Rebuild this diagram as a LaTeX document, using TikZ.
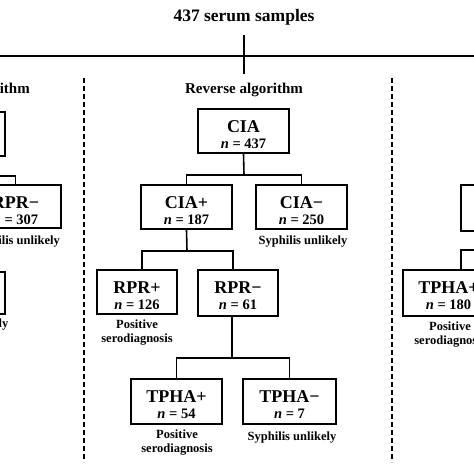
\documentclass[tikz,border=0pt]{standalone}
\usepackage{fontspec}
\setmainfont{Liberation Serif}
\newcommand\flowbox[7]{% name, cx, top, w, h, line1, line2
  \node[box, minimum width=#4pt, minimum height=#5pt] (#1) at (#2,#3+#5/2) {};
  \node[maintxt, anchor=base] (#1-a) at (#2,#3+23) {#6};
  \node[subtxt, anchor=base] (#1-b) at (#2,#3+39.5) {#7};
}
\begin{document}
\begin{tikzpicture}[x=1pt,y=-1pt,
  box/.style={draw, line width=1.8pt, inner sep=0pt},
  maintxt/.style={font=\fontsize{18}{20}\selectfont\bfseries, inner sep=0pt},
  subtxt/.style={font=\fontsize{14.5}{16}\selectfont\bfseries, inner sep=0pt},
  lbl/.style={font=\fontsize{12.5}{14}\selectfont\bfseries, inner sep=0pt, anchor=base},
  conn/.style={line width=1.6pt},
  sep/.style={line width=1.7pt, dash pattern=on 5pt off 3pt}]
\useasboundingbox (0,0) rectangle (474,474);
\clip (0,0) rectangle (474,474);

% top
\node[font=\fontsize{17.5}{19}\selectfont\bfseries, inner sep=0pt, anchor=base] (ttl) at (244,21.5) {437 serum samples};
\coordinate (hl) at (-10,56);
\coordinate (hr) at (484,56);
\coordinate (t1) at (244,35);
\coordinate (t2) at (244,74);
\draw[line width=1.6pt] (hl) -- (hr);
\draw[line width=1.6pt] (t1) -- (t2);

% separators
\coordinate (d1a) at (84,78); \coordinate (d1b) at (84,462);
\coordinate (d2a) at (392,78); \coordinate (d2b) at (392,462);
\draw[sep] (d1a) -- (d1b);
\draw[sep] (d2a) -- (d2b);

% algorithm titles
\node[font=\fontsize{15}{17}\selectfont\bfseries, inner sep=0pt, anchor=base] (rev) at (244,93) {Reverse algorithm};
\node[font=\fontsize{15}{17}\selectfont\bfseries, inner sep=0pt, anchor=base east] (trad) at (30,93) {Traditional algorithm};

% reverse algorithm boxes
\flowbox{cia}{243.5}{109}{91}{44}{CIA}{\textit{n} = 437}
\flowbox{ciap}{186.5}{185}{91}{44}{CIA+}{\textit{n} = 187}
\flowbox{cian}{301.5}{185}{91}{44}{CIA−}{\textit{n} = 250}
\flowbox{rprp}{137}{270}{80}{44}{RPR+}{\textit{n} = 126}
\flowbox{rprn}{238}{270}{80}{46}{RPR−}{\textit{n} = 61}
\flowbox{tphap}{176.5}{379}{91}{45}{TPHA+}{\textit{n} = 54}
\flowbox{tphan}{289.5}{379}{93}{45}{TPHA−}{\textit{n} = 7}

\node[lbl] (l1) at (303,244) {Syphilis unlikely};
\node[lbl] (l2) at (137,328) {Positive};
\node[lbl] (l3) at (137,342) {serodiagnosis};
\node[lbl] (l4) at (177,438) {Positive};
\node[lbl] (l5) at (177,452.5) {serodiagnosis};
\node[lbl] (l6) at (292,440) {Syphilis unlikely};

% reverse connectors
\coordinate (j1) at (244,175);
\coordinate (j2) at (187,251);
\coordinate (j3) at (232,358);
\draw[conn] (cia.south) -- (j1);
\draw[conn] (ciap.north) |- (j1) -| (cian.north);
\draw[conn] (ciap.south) -- (j2);
\draw[conn] ([xshift=5pt]rprp.north) |- (j2) -| ([xshift=-5pt]rprn.north);
\draw[conn] ([xshift=-6pt]rprn.south) -- (j3);
\draw[conn] (tphap.north) |- (j3) -| (tphan.north);

% left (traditional) partial
\flowbox{ltop}{-40.5}{112}{91}{44}{}{}
\flowbox{lrpr}{15.5}{185}{91}{43}{RPR−}{\textit{n} = 307}
\flowbox{llow}{-40.5}{272}{91}{42}{}{}
\node[lbl] (l7) at (15.5,244) {Syphilis unlikely};
\node[lbl] (l8) at (-36,327) {Syphilis unlikely};
\coordinate (j4) at (0,176);
\draw[conn] (ltop.south) |- (j4) -| (lrpr.north);

% right partial
\flowbox{rup}{506.5}{185}{91}{46}{}{}
\flowbox{rtp}{448.5}{270}{91}{46}{TPHA+}{\textit{n} = 180}
\node[lbl] (l9) at (450,330) {Positive};
\node[lbl] (l10) at (450,344) {serodiagnosis};
\coordinate (j5) at (506.5,250);
\coordinate (j6) at (560,250);
\draw[conn] (rup.south) -- (j5);
\draw[conn] ([xshift=12.5pt]rtp.north) |- (j5) -- (j6);
\end{tikzpicture}
\end{document}
